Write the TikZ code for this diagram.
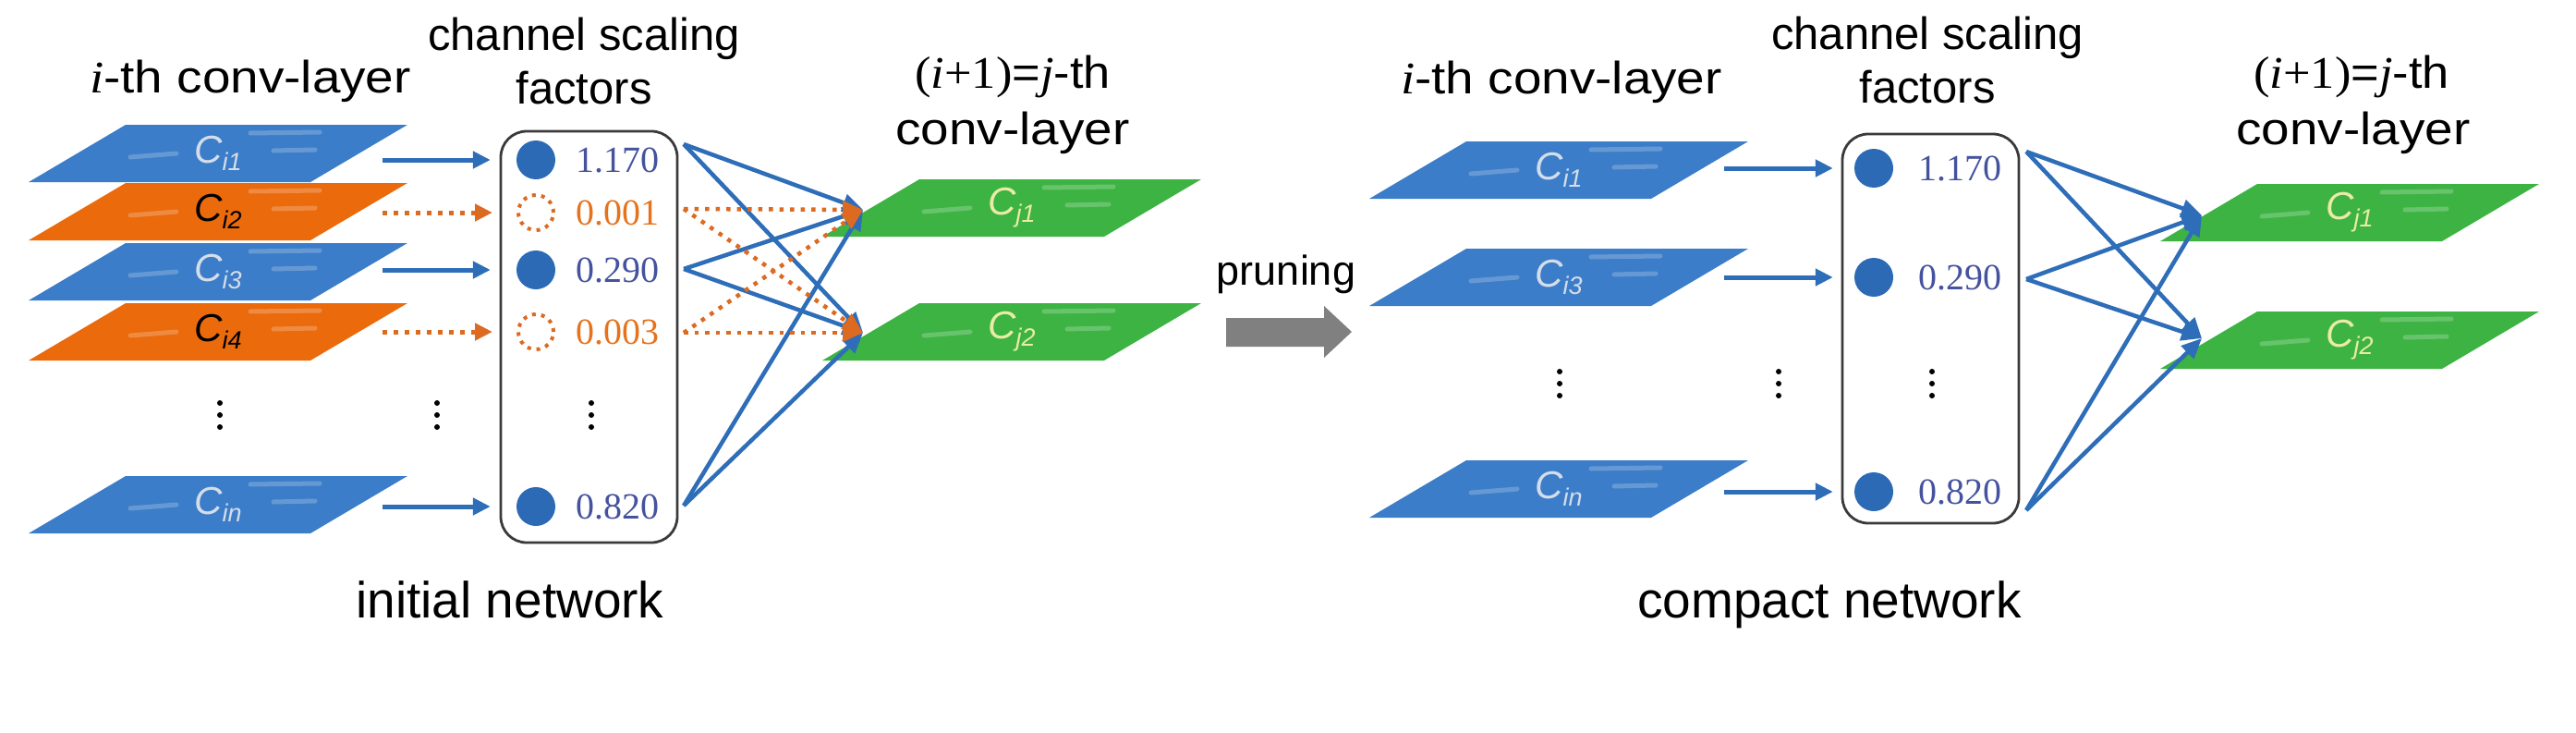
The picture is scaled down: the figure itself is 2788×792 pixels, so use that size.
\documentclass[tikz,border=0pt]{standalone}
\usepackage{fontspec}
\usepackage{graphicx}
\setmainfont{Liberation Sans}
\newfontfamily\serif{Liberation Serif}
\usetikzlibrary{arrows.meta,calc}
\definecolor{pblue}{HTML}{3B7DC8}
\definecolor{porange}{HTML}{EA6A0C}
\definecolor{pgreen}{HTML}{3DB343}
\definecolor{ablue}{HTML}{2E6DB8}
\definecolor{aorange}{HTML}{DC6A20}
\definecolor{vblue}{HTML}{45529E}
\definecolor{vorange}{HTML}{E5731E}
\definecolor{cfill}{HTML}{2C6AB6}
\definecolor{lblgray}{HTML}{D5DDEA}
\definecolor{lblyellow}{HTML}{E9EBA6}
\definecolor{boxline}{HTML}{3A3A3A}
\definecolor{arrgray}{HTML}{808080}
\tikzset{
  planestreak/.style={white, opacity=0.22, line width=5pt, line cap=round},
  lbl/.style={inner sep=0pt},
  kept/.style={circle, fill=cfill, minimum size=42pt, inner sep=0pt},
  pruned/.style={circle, draw=aorange, line width=4pt, dash pattern=on 4pt off 6pt, minimum size=38pt, inner sep=0pt},
  val/.style={inner sep=0pt, font=\serif\fontsize{40}{40}\selectfont},
  fbox/.style={draw=boxline, line width=2.8pt, rounded corners=28pt, minimum width=191pt, inner sep=0pt},
  inarrow/.style={ablue, line width=5pt, -{Triangle[length=19pt,width=18pt]}},
  inarrowp/.style={aorange, line width=5pt, dash pattern=on 5pt off 7pt, -{Triangle[length=19pt,width=18pt]}},
  outarrow/.style={ablue, line width=4.5pt, -{Triangle[length=22pt,width=19pt]}},
  outarrowp/.style={aorange, line width=4.5pt, dash pattern=on 4.5pt off 7pt, -{Triangle[length=22pt,width=19pt]}},
  title/.style={inner sep=0pt, anchor=base, font=\fontsize{49}{57}\selectfont},
  big/.style={inner sep=0pt, anchor=base, font=\fontsize{55}{60}\selectfont},
}
\newcommand\Clabel[1]{{\fontsize{42}{42}\selectfont\itshape C}\raisebox{-8pt}{\fontsize{27}{27}\selectfont\itshape #1}}
\newcommand\plane[6]{%
  \coordinate (#1) at (#2,#3);
  \fill[#4] ($(#1)+(-205,31)$) -- ($(#1)+(100,31)$) -- ($(#1)+(205,-31)$) -- ($(#1)+(-100,-31)$) -- cycle;
  \draw[planestreak] ($(#1)+(-95,4)$) -- ($(#1)+(-45,0)$);
  \draw[planestreak] ($(#1)+(35,-22)$) -- ($(#1)+(110,-23)$);
  \draw[planestreak] ($(#1)+(60,-3)$) -- ($(#1)+(105,-4)$);
  \node[lbl, text=#5] (#1l) at (#1) {\Clabel{#6}};
}
\newcommand\vdotsat[2]{\fill[black] (#1,#2-13) circle (3pt) (#1,#2) circle (3pt) (#1,#2+13) circle (3pt);}
\begin{document}
\begin{tikzpicture}[x=1pt,y=-1pt]
\useasboundingbox (0,0) rectangle (2788,792);
% ================= LEFT PANEL =================
\node[title] (tiL) at (271,100) {\scalebox{1.12}[1]{{\serif\itshape i}-th conv-layer}};
\node[title] (csL1) at (632,55) {channel scaling};
\node[title] (csL2) at (632,112) {factors};
\node[title] (jL1) at (1096,95) {\scalebox{1.07}[1]{{\serif(\textit{i}+1)}={\serif\itshape j}-th}};
\node[title] (jL2) at (1096,156) {\scalebox{1.12}[1]{conv-layer}};
\node[big] (inet) at (552,668) {initial network};

\plane{Pi1}{236}{166}{pblue}{lblgray}{i1}
\plane{Pi2}{236}{229}{porange}{black}{i2}
\plane{Pi3}{236}{294}{pblue}{lblgray}{i3}
\plane{Pi4}{236}{359}{porange}{black}{i4}
\plane{Pin}{236}{546}{pblue}{lblgray}{in}

\node[fbox, minimum height=445pt] (BL) at (637.5,364.5) {};
\node[kept] (fL1) at (580,173) {};
\node[pruned] (fL2) at (580,230) {};
\node[kept] (fL3) at (580,292) {};
\node[pruned] (fL4) at (580,359) {};
\node[kept] (fLn) at (580,548) {};
\node[val, text=vblue] (vL1) at (668,173) {1.170};
\node[val, text=vorange] (vL2) at (668,230) {0.001};
\node[val, text=vblue] (vL3) at (668,292) {0.290};
\node[val, text=vorange] (vL4) at (668,359) {0.003};
\node[val, text=vblue] (vLn) at (668,548) {0.820};

\coordinate (aL1) at (414,173);
\coordinate (aL2) at (414,230);
\coordinate (aL3) at (414,292);
\coordinate (aL4) at (414,359);
\coordinate (aLn) at (414,548);
\draw[inarrow, shorten >=28pt] (aL1) -- (fL1);
\draw[inarrowp, shorten >=26pt] (aL2) -- (fL2);
\draw[inarrow, shorten >=28pt] (aL3) -- (fL3);
\draw[inarrowp, shorten >=26pt] (aL4) -- (fL4);
\draw[inarrow, shorten >=28pt] (aLn) -- (fLn);

\vdotsat{238}{449}
\vdotsat{473}{449}
\vdotsat{640}{449}

\plane{Pj1}{1095}{225}{pgreen}{lblyellow}{j1}
\plane{Pj2}{1095}{359}{pgreen}{lblyellow}{j2}
\coordinate (tL1) at ($(Pj1)+(-161,2)$);
\coordinate (tL2) at ($(Pj2)+(-161,1)$);
\coordinate (oL1) at (740,156);
\coordinate (oL2) at (740,226);
\coordinate (oL3) at (740,291);
\coordinate (oL4) at (740,360);
\coordinate (oLn) at (740,547);
\draw[outarrow] (oL1) -- (tL1);
\draw[outarrow] (oL1) -- (tL2);
\draw[outarrow] (oL3) -- (tL1);
\draw[outarrow] (oL3) -- (tL2);
\draw[outarrow] (oLn) -- (tL1);
\draw[outarrow] (oLn) -- (tL2);
\draw[outarrowp] (oL2) -- (tL1);
\draw[outarrowp] (oL2) -- (tL2);
\draw[outarrowp] (oL4) -- (tL1);
\draw[outarrowp] (oL4) -- (tL2);

% ================= PRUNING =================
\node[inner sep=0pt, anchor=base, font=\fontsize{45}{50}\selectfont] (prun) at (1392,308) {pruning};
\fill[arrgray] (1327,344) -- (1433,344) -- (1433,331) -- (1463,359) -- (1433,387) -- (1433,375) -- (1327,375) -- cycle;

% ================= RIGHT PANEL =================
\node[title] (tiR) at (1690,101) {\scalebox{1.12}[1]{{\serif\itshape i}-th conv-layer}};
\node[title] (csR1) at (2086,54) {channel scaling};
\node[title] (csR2) at (2086,111) {factors};
\node[title] (jR1) at (2545,95) {\scalebox{1.07}[1]{{\serif(\textit{i}+1)}={\serif\itshape j}-th}};
\node[title] (jR2) at (2547,156) {\scalebox{1.12}[1]{conv-layer}};
\node[big] (cnet) at (1980,668) {compact network};

\plane{Qi1}{1687}{184}{pblue}{lblgray}{i1}
\plane{Qi3}{1687}{300}{pblue}{lblgray}{i3}
\plane{Qin}{1687}{529}{pblue}{lblgray}{in}

\node[fbox, minimum height=421pt] (BR) at (2089.5,355.5) {};
\node[kept] (fR1) at (2028,182) {};
\node[kept] (fR3) at (2028,300) {};
\node[kept] (fRn) at (2028,532) {};
\node[val, text=vblue] (vR1) at (2121,182) {1.170};
\node[val, text=vblue] (vR3) at (2121,300) {0.290};
\node[val, text=vblue] (vRn) at (2121,532) {0.820};

\coordinate (aR1) at (1866,182);
\coordinate (aR3) at (1866,300);
\coordinate (aRn) at (1866,532);
\draw[inarrow, shorten >=23pt] (aR1) -- (fR1);
\draw[inarrow, shorten >=23pt] (aR3) -- (fR3);
\draw[inarrow, shorten >=23pt] (aRn) -- (fRn);

\vdotsat{1688}{415}
\vdotsat{1925}{415}
\vdotsat{2091}{415}

\plane{Qj1}{2543}{230}{pgreen}{lblyellow}{j1}
\plane{Qj2}{2543}{368}{pgreen}{lblyellow}{j2}
\coordinate (tR1) at ($(Qj1)+(-160,3)$);
\coordinate (tR2) at ($(Qj2)+(-160,-2)$);
\coordinate (oR1) at (2193,164);
\coordinate (oR3) at (2193,302);
\coordinate (oRn) at (2193,552);
\draw[outarrow] (oR1) -- (tR1);
\draw[outarrow] (oR1) -- (tR2);
\draw[outarrow] (oR3) -- (tR1);
\draw[outarrow] (oR3) -- (tR2);
\draw[outarrow] (oRn) -- (tR1);
\draw[outarrow] (oRn) -- (tR2);
\end{tikzpicture}
\end{document}
